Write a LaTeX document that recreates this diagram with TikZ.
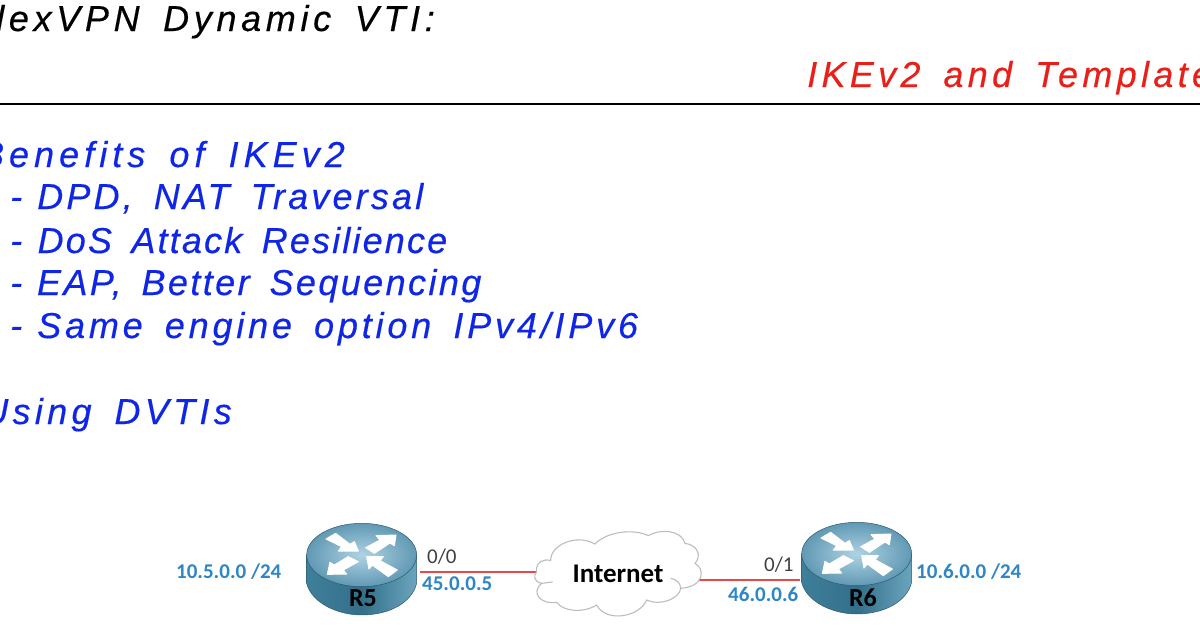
\documentclass[tikz,border=0pt]{standalone}
\usepackage{fontspec}
\setmainfont{Carlito}
\newfontfamily\hand[LetterSpace=12,WordSpace=1.6,FakeBold=0.35]{Liberation Sans}
\definecolor{inkblue}{HTML}{0F26E6}
\definecolor{inkred}{HTML}{E8201A}
\definecolor{ipblue}{HTML}{2E86C4}
\definecolor{linkred}{HTML}{E8484A}
\definecolor{cloudgray}{HTML}{BDBDBD}
\newcommand{\routershape}{%
  \path[left color=rside1,right color=rside3,middle color=rside2,draw=rline,line width=.5pt]
    (35,120) -- (35,205) .. controls (50,265) and (130,300) .. (200,300)
    .. controls (280,300) and (350,265) .. (365,205) -- (365,120) -- cycle;
  \path[inner color=rtopin,outer color=rtopout,draw=rline,line width=.5pt]
    (200,120) ellipse [x radius=165,y radius=95];
  \path[arrowmark] (122,55) -- (93,72) -- (140,95) -- (130,108) -- (190,108) -- (178,80) -- (165,88) -- cycle;
  \path[arrowmark] (212,98) -- (255,75) -- (243,62) -- (303,60) -- (298,92) -- (285,84) -- (238,115) -- cycle;
  \path[arrowmark] (160,125) -- (190,140) -- (145,165) -- (155,177) -- (97,178) -- (105,142) -- (118,150) -- cycle;
  \path[arrowmark] (215,125) -- (265,125) -- (255,137) -- (307,165) -- (280,185) -- (232,150) -- (222,162) -- cycle;
}
\definecolor{rside1}{HTML}{3F7F9A}
\definecolor{rside2}{HTML}{346F8A}
\definecolor{rside3}{HTML}{6BA4BD}
\definecolor{rtopin}{HTML}{AFD3E3}
\definecolor{rtopout}{HTML}{6199B4}
\definecolor{rline}{HTML}{2B5A70}
\tikzset{
  arrowmark/.style={fill=white,draw=white,line width=1pt,line join=round},
  handtext/.style={inner sep=0pt,font=\hand\itshape\fontsize{36}{40}\selectfont},
  titletext/.style={handtext,text=black,anchor=base east},
  redtext/.style={handtext,text=inkred,anchor=base west},
  bluetext/.style={handtext,text=inkblue,anchor=base west},
  blueend/.style={handtext,text=inkblue,anchor=base east},
  ipaddr/.style={inner sep=0pt,anchor=base west,text=ipblue,font=\bfseries\fontsize{21}{24}\selectfont},
  portlabel/.style={inner sep=0pt,anchor=base west,text=black!75,font=\fontsize{21}{24}\selectfont},
  routername/.style={inner sep=0pt,anchor=base,text=black,font=\bfseries\fontsize{27}{30}\selectfont},
  anchorbox/.style={inner sep=0pt,minimum height=50pt},
  linkline/.style={draw=linkred,line width=1.6pt},
  cloudline/.style={draw=cloudgray,line width=1.1pt,fill=white},
}
\begin{document}
\begin{tikzpicture}[x=1pt,y=-1pt]
\useasboundingbox (0,0) rectangle (1200,630);
\clip (0,0) rectangle (1200,630);
\fill[white] (0,0) rectangle (1200,630);
\node[titletext] (title) at (435,31) {\addfontfeature{LetterSpace=13}FlexVPN Dynamic VTI:};
\node[redtext] (subtitle) at (807,87) {IKEv2 and Templates};
\draw[black,line width=1.5pt] (0,104) -- (1200,104);
\node[blueend] (benefits) at (345,167) {\addfontfeature{LetterSpace=14}Benefits of IKEv2};
\node[bluetext] (l1) at (10,209) {\addfontfeature{LetterSpace=8.8}-\hspace{-6pt} DPD, NAT Traversal};
\node[bluetext] (l2) at (10,253) {\addfontfeature{LetterSpace=6}-\hspace{-4pt} DoS Attack Resilience};
\node[bluetext] (l3) at (10,295) {\addfontfeature{LetterSpace=6.7}-\hspace{-5pt} EAP, Better Sequencing};
\node[bluetext] (l4) at (10,338) {\addfontfeature{LetterSpace=10.6}-\hspace{-7pt} Same engine option IPv4/IPv6};
\node[blueend] (using) at (232,424) {Using DVTIs};
% anchors for the connectors
\node[anchorbox,minimum width=116pt] (r5) at (362,572) {};
\node[anchorbox,minimum width=114pt] (r6) at (857,580) {};
\node[anchorbox,minimum width=162pt] (inet) at (618,574) {};
\draw[linkline] (r5.east) -- ([yshift=2pt]inet.west);
\draw[linkline] ([yshift=-6pt]inet.east) -- (r6.west);
% routers
\begin{scope}[shift={(295,515)},x=.3333pt,y=-.3333pt]
\routershape
\end{scope}
\begin{scope}[shift={(790,514)},x=.3333pt,y=-.3333pt]
\routershape
\end{scope}
% cloud
\begin{scope}[shift={(520,520)},x=.3333pt,y=-.3333pt]
\path[cloudline] (50,155)
 .. controls (45,125) and (75,115) .. (92,122)
 .. controls (90,75) and (170,40) .. (225,72)
 .. controls (260,35) and (340,25) .. (385,47)
 .. controls (420,25) and (485,30) .. (495,70)
 .. controls (535,75) and (545,110) .. (525,130)
 .. controls (555,145) and (555,200) .. (482,205)
 .. controls (480,235) and (420,260) .. (380,240)
 .. controls (360,290) and (260,310) .. (230,255)
 .. controls (190,280) and (130,275) .. (110,247)
 .. controls (65,255) and (30,220) .. (65,190)
 .. controls (40,185) and (40,165) .. (50,155) -- cycle;
\draw[cloudgray,line width=1.1pt] (65,190) -- (98,186);
\draw[cloudgray,line width=1.1pt] (482,205) .. controls (482,190) and (470,178) .. (452,175);
\end{scope}
\node[routername] (inettext) at (618,582) {Internet};
\node[routername,font=\bfseries\fontsize{26}{30}\selectfont] (r5name) at (363,606) {R5};
\node[routername,font=\bfseries\fontsize{26}{30}\selectfont] (r6name) at (863,606) {R6};
\node[ipaddr] (net5) at (176,578) {10.5.0.0 /24};
\node[ipaddr] (ip5) at (422,590) {45.0.0.5};
\node[portlabel] (p5) at (427,563) {0/0};
\node[portlabel] (p6) at (764,571) {0/1};
\node[ipaddr] (ip6) at (728,601) {46.0.0.6};
\node[ipaddr] (net6) at (916,578) {10.6.0.0 /24};
\end{tikzpicture}
\end{document}
